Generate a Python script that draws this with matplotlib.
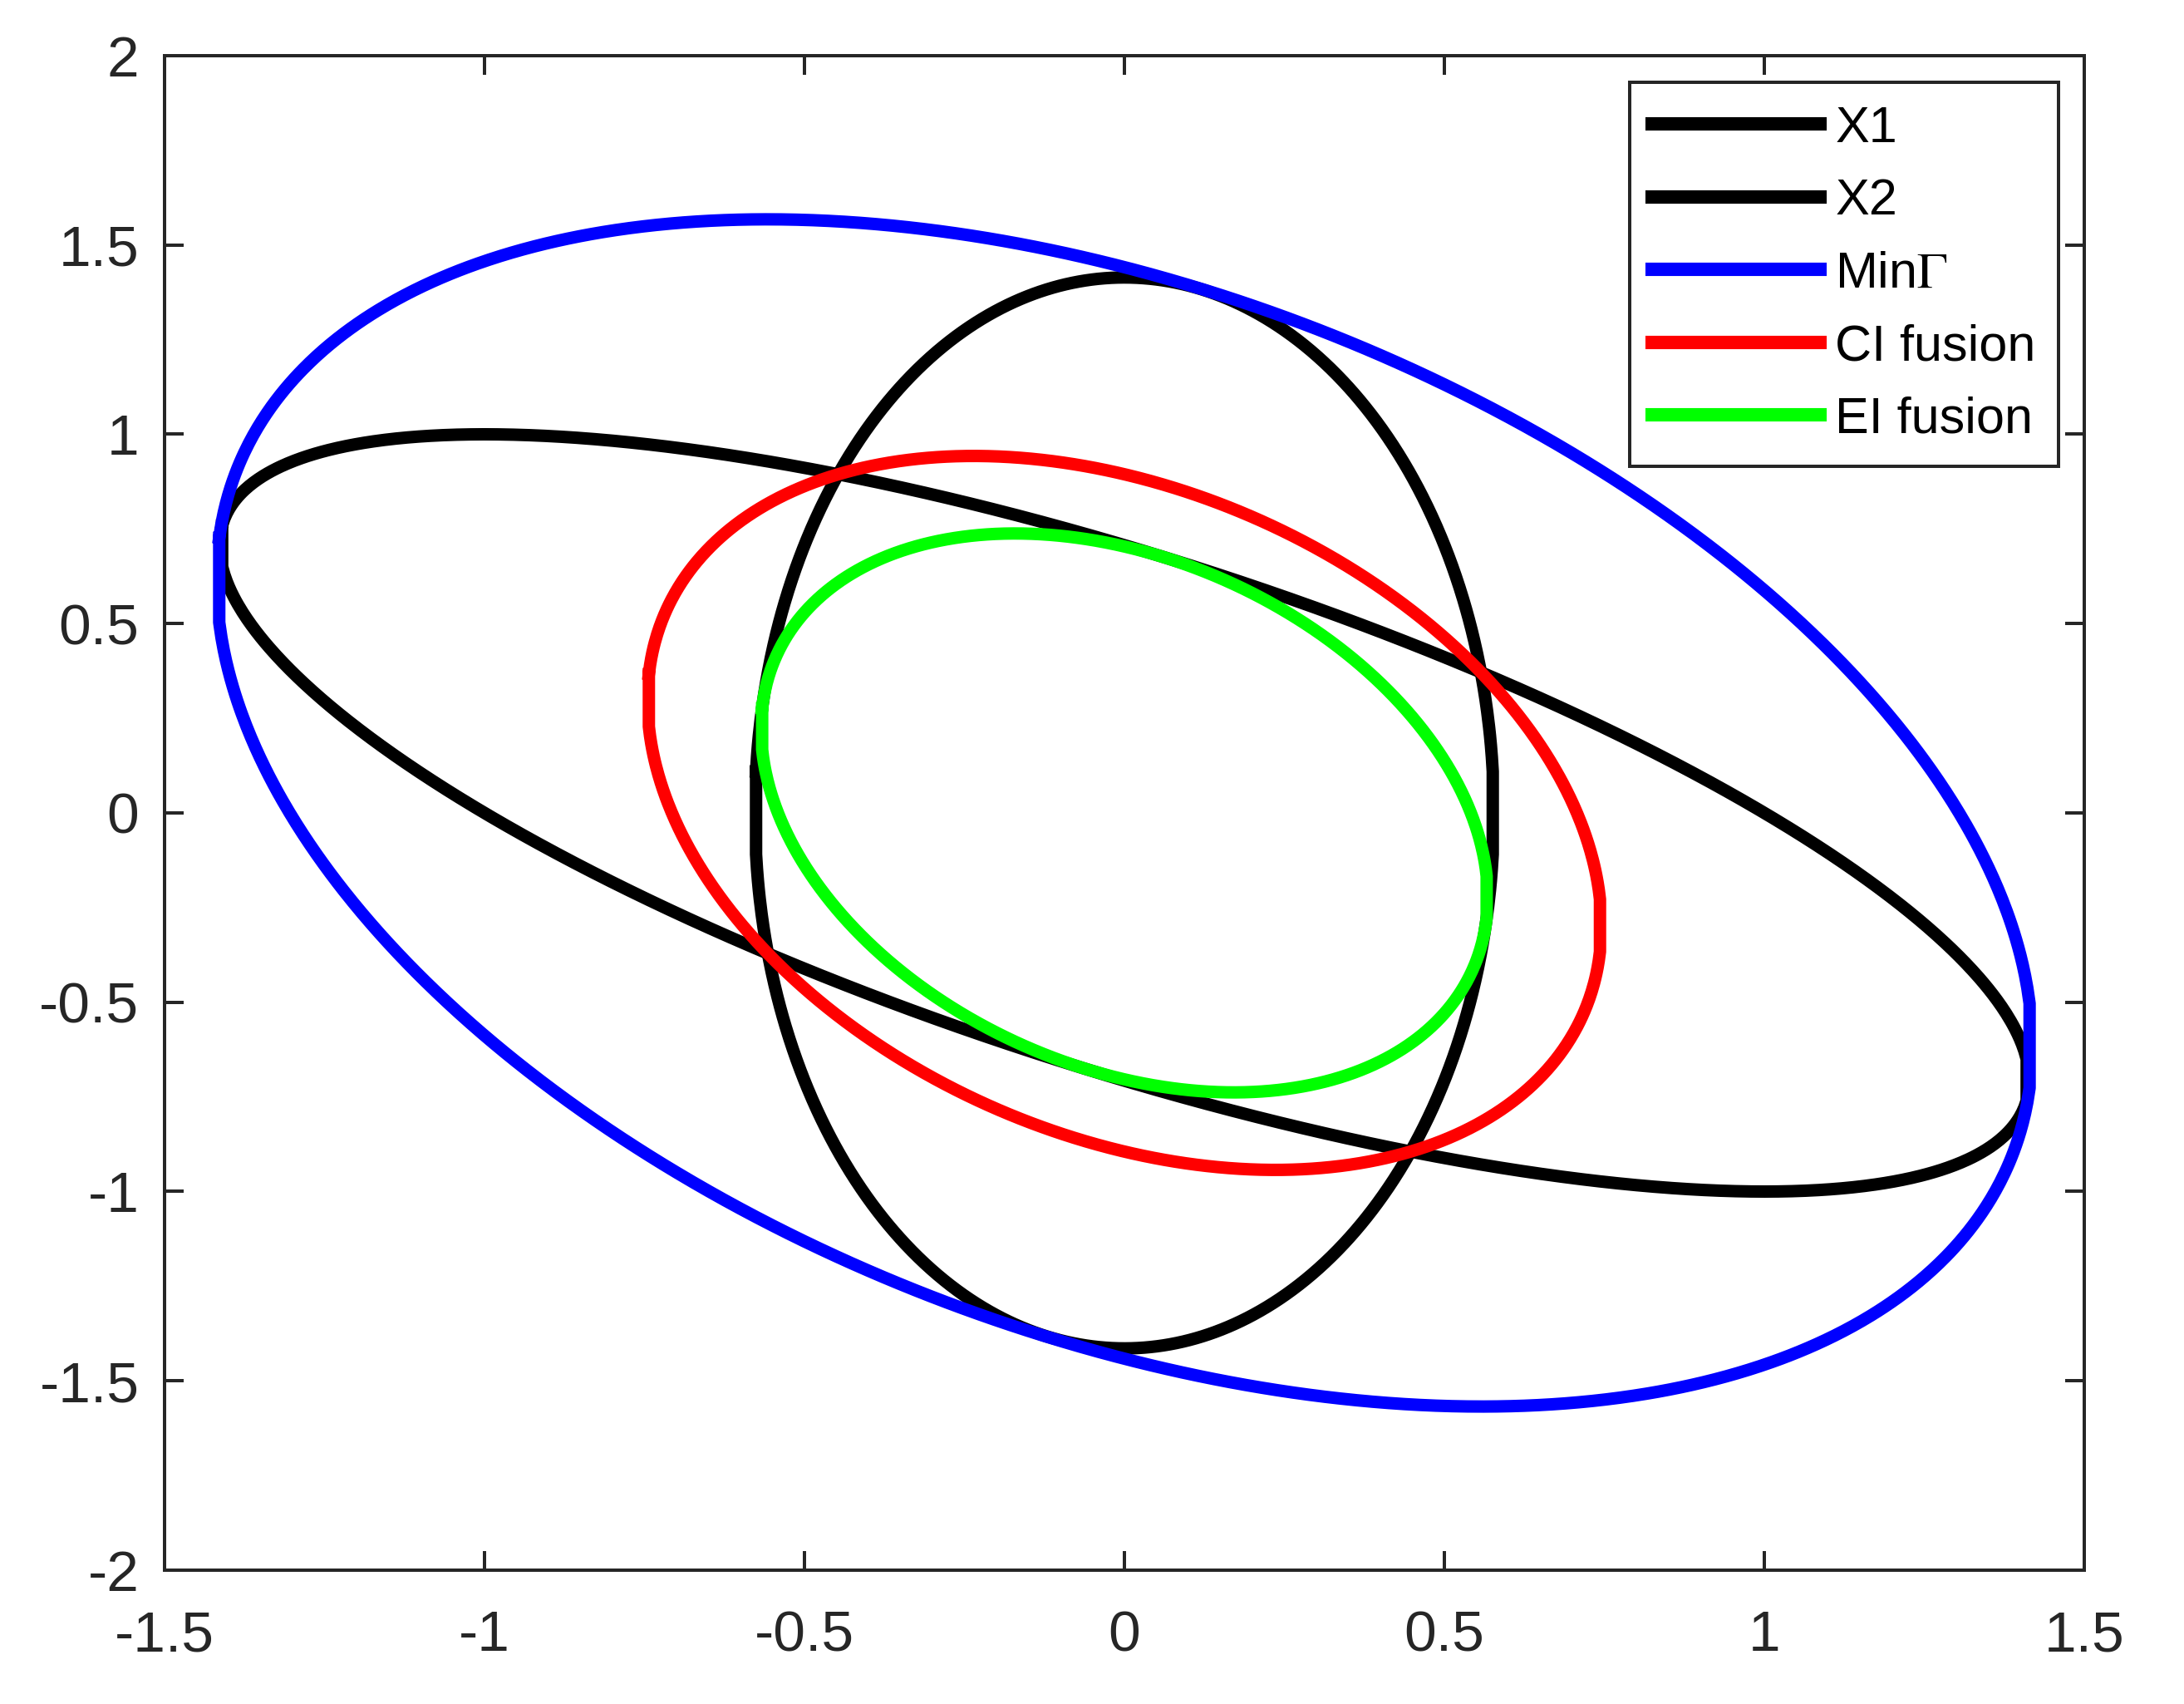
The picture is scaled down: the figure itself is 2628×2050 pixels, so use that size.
import numpy as np
import matplotlib
matplotlib.use("Agg")
import matplotlib.pyplot as plt

# ---- data: 2x2 covariance matrices [P11, P12, P22] ----
labels = ["X1", "X2", "Min$\\Gamma$", "CI fusion", "EI fusion"]
cov_x1 = [2.0, -1.0, 1.0]
cov_x2 = [1.0 / 3.0, 0.0, 2.0]
cov_gamma = [2.013, -0.875, 2.458]
cov_ci = [0.5556, -0.2222, 0.8889]
cov_ei = [0.3224, -0.1263, 0.5448]
colors = ["#000000", "#000000", "#0000ff", "#ff0000", "#00ff00"]

xticks = [-1.5, -1.0, -0.5, 0.0, 0.5, 1.0, 1.5]
xticklabels = ["-1.5", "-1", "-0.5", "0", "0.5", "1", "1.5"]
yticks = [-2.0, -1.5, -1.0, -0.5, 0.0, 0.5, 1.0, 1.5, 2.0]
yticklabels = ["-2", "-1.5", "-1", "-0.5", "0", "0.5", "1", "1.5", "2"]

plt.rcParams["mathtext.fontset"] = "stix"
plt.rcParams["font.family"] = ["Liberation Sans", "DejaVu Sans"]

AX_COL = "#262626"


def ellipse_xy(cov, n=800, edge=0.003):
    p11, p12, p22 = cov
    xm = np.sqrt(p11)
    x = np.linspace(-xm * (1 - edge), xm * (1 - edge), n)
    c = p12 / p11
    h = np.sqrt((p11 * p22 - p12 ** 2) / p11) * np.sqrt(np.clip(1 - x ** 2 / p11, 0, None))
    up = c * x + h
    lo = c * x - h
    xs = np.concatenate([x, x[::-1], x[:1]])
    ys = np.concatenate([up, lo[::-1], up[:1]])
    return xs, ys


fig = plt.figure(figsize=(13.14, 10.25), dpi=200)
ax = fig.add_axes([0.07534, 0.07854, 0.87900, 0.88878])

for cov, lab, col in zip([cov_x1, cov_x2, cov_gamma, cov_ci, cov_ei], labels, colors):
    xs, ys = ellipse_xy(cov)
    ax.plot(xs, ys, color=col, lw=5.4, label=lab, solid_joinstyle="round")

ax.set_xlim(-1.5, 1.5)
ax.set_ylim(-2, 2)
ax.set_xticks(xticks)
ax.set_xticklabels(xticklabels)
ax.set_yticks(yticks)
ax.set_yticklabels(yticklabels)

for s in ax.spines.values():
    s.set_linewidth(1.44)
    s.set_color(AX_COL)

ax.tick_params(axis="both", which="both", direction="in", length=8.3, width=1.44,
               color=AX_COL, labelcolor=AX_COL, labelsize=25,
               top=True, right=True)
ax.tick_params(axis="x", pad=17)
ax.tick_params(axis="y", pad=11)

leg = ax.legend(loc="upper right", bbox_to_anchor=(0.9866, 0.9824), borderaxespad=0,
                fancybox=False, framealpha=1, edgecolor=AX_COL,
                handlelength=3.3, handletextpad=0.3, labelspacing=0.5,
                borderpad=0.45,
                prop={"family": ["Liberation Sans", "DejaVu Sans"], "size": 22})
leg.get_frame().set_linewidth(1.44)
for lh in leg.get_lines():
    lh.set_linewidth(5.8)

fig.savefig("out.png", dpi=200, facecolor="white")
